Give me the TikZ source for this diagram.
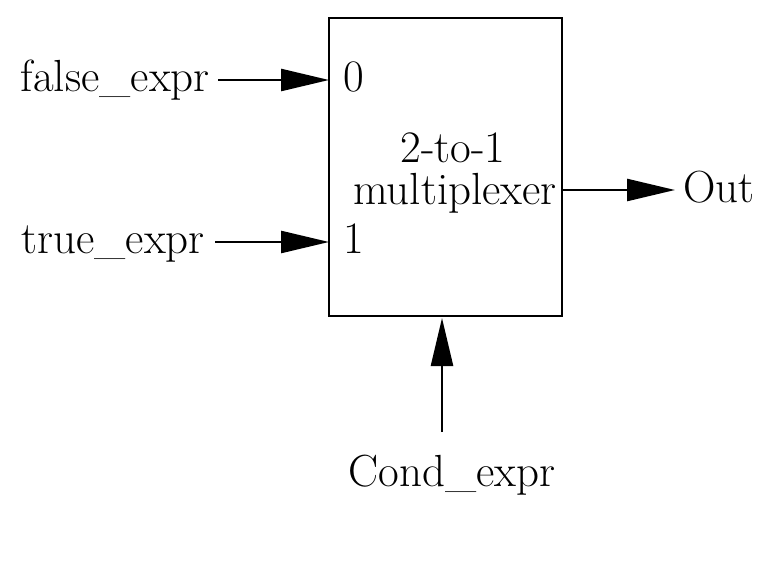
\documentclass[tikz,border=0pt]{standalone}
\usetikzlibrary{arrows.meta}
\begin{document}
\begin{tikzpicture}[x=1pt,y=-1pt,
  lbl/.style={inner sep=0pt,font=\fontsize{45}{50}\selectfont},
  conn/.style={line width=2.5pt,-{Triangle[length=48pt,width=22pt]}}]
\useasboundingbox (0,0) rectangle (774,588);
\node[draw,line width=2pt,minimum width=233pt,minimum height=298pt,inner sep=0pt] (mux) at (445.5,167) {};
\node[lbl,anchor=base] (m1) at (453,163) {2-to-1};
\node[lbl,anchor=base] (m2) at (455,205) {multiplexer};
\node[lbl,anchor=base west] (p0) at (343,92) {0};
\node[lbl,anchor=base west] (p1) at (343,254) {1};
\node[lbl,anchor=base east] (f) at (210,92) {false\_expr};
\node[lbl,anchor=base east] (t) at (205,254) {true\_expr};
\node[lbl,anchor=base west] (o) at (683,203) {Out};
\node[lbl,anchor=base] (c) at (452,486) {Cond\_expr};
\coordinate (fin) at (329,80);
\coordinate (tin) at (329,242);
\coordinate (oout) at (562,190);
\coordinate (cin) at (442,318);
\draw[conn] (218,80) -- (fin);
\draw[conn] (215,242) -- (tin);
\draw[conn] (oout) -- (675,190);
\draw[conn] (442,432) -- (cin);
\end{tikzpicture}
\end{document}
